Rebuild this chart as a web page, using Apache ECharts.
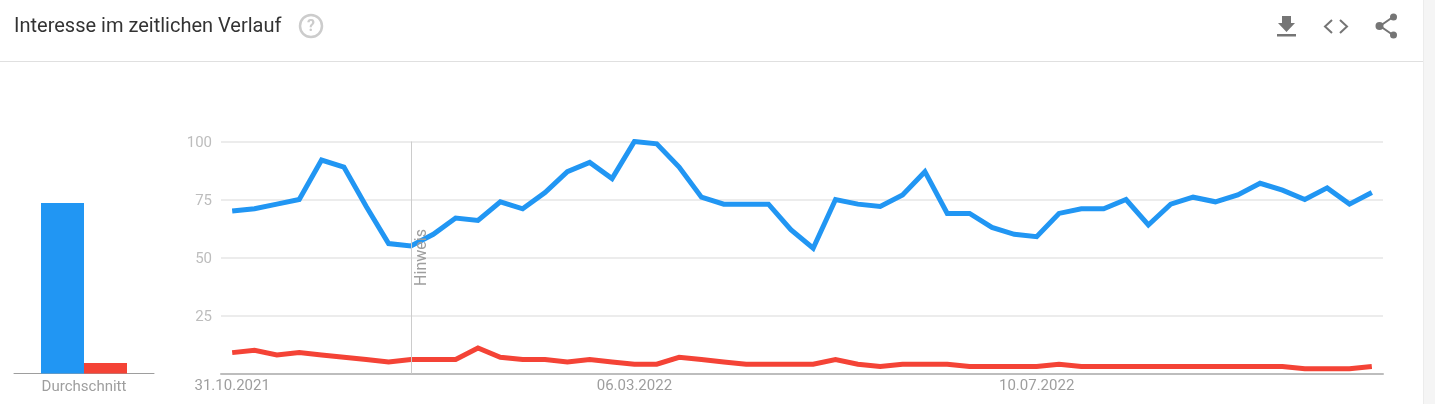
<!DOCTYPE html>
<html>
<head>
<meta charset="utf-8">
<style>html,body{margin:0;padding:0;background:#fff}#c{width:1435px;height:404px}</style>
<script src="https://cdn.jsdelivr.net/npm/echarts@6/dist/echarts.min.js"></script>
</head>
<body>
<div id="c"></div>
<script>
const weeks = ['31.10.2021','07.11.2021','14.11.2021','21.11.2021','28.11.2021','05.12.2021','12.12.2021','19.12.2021','26.12.2021','02.01.2022','09.01.2022','16.01.2022','23.01.2022','30.01.2022','06.02.2022','13.02.2022','20.02.2022','27.02.2022','06.03.2022','13.03.2022','20.03.2022','27.03.2022','03.04.2022','10.04.2022','17.04.2022','24.04.2022','01.05.2022','08.05.2022','15.05.2022','22.05.2022','29.05.2022','05.06.2022','12.06.2022','19.06.2022','26.06.2022','03.07.2022','10.07.2022','17.07.2022','24.07.2022','31.07.2022','07.08.2022','14.08.2022','21.08.2022','28.08.2022','04.09.2022','11.09.2022','18.09.2022','25.09.2022','02.10.2022','09.10.2022','16.10.2022','23.10.2022'];
const blueValues = [70,71,73,75,92,89,72,56,55,60,67,66,74,71,78,87,91,84,100,99,89,76,73,73,73,62,54,75,73,72,77,87,69,69,63,60,59,69,71,71,75,64,73,76,74,77,82,79,75,80,73,78];
const redValues = [9,10,8,9,8,7,6,5,6,6,6,11,7,6,6,5,6,5,4,4,7,6,5,4,4,4,4,6,4,3,4,4,4,3,3,3,3,4,3,3,3,3,3,3,3,3,3,3,2,2,2,3];
const averageCategories = ['Durchschnitt'];
const blueAverage = [73.5];
const redAverage = [4.5];
const yTicks = [25,50,75,100];
const title = 'Interesse im zeitlichen Verlauf';
const noteLabel = 'Hinweis';
const noteWeek = '26.12.2021';

const BLUE = '#2196f3', RED = '#f44336', ICON = '#757575';
const font = 'Roboto';
const chart = echarts.init(document.getElementById('c'), null, {renderer:'canvas'});
chart.setOption({
  animation:false,
  backgroundColor:'#fff',
  textStyle:{fontFamily:font},
  grid:[
    {left:14, width:140, top:141.5, height:232, containLabel:false},
    {left:221, width:1162, top:141.5, height:232, containLabel:false}
  ],
  xAxis:[
    {gridIndex:0, type:'category', data:averageCategories,
      axisTick:{show:false}, axisLine:{lineStyle:{color:'#9e9e9e',width:1}},
      axisLabel:{color:'#9e9e9e',fontSize:15,fontFamily:font,margin:6}},
    {gridIndex:1, type:'category', data:weeks,
      axisTick:{show:false}, axisLine:{lineStyle:{color:'#bdbdbd',width:2}},
      axisLabel:{color:'#9e9e9e',fontSize:15,fontFamily:font,interval:17,margin:5,hideOverlap:false}}
  ],
  yAxis:[
    {gridIndex:0, type:'value', min:0, max:100, show:false},
    {gridIndex:1, type:'value', min:0, max:100, interval:25,
      axisLine:{show:false}, axisTick:{show:false},
      axisLabel:{color:'#bdbdbd',fontSize:15,fontFamily:font,margin:9,verticalAlign:'top',lineHeight:4,
        formatter:v => yTicks.includes(v) ? String(v) : ''},
      splitLine:{lineStyle:{color:'#e6e6e6',width:1.5}}}
  ],
  series:[
    {type:'bar',name:'Blau',xAxisIndex:0,yAxisIndex:0,data:blueAverage,barWidth:43,barGap:0,itemStyle:{color:BLUE}},
    {type:'bar',name:'Rot',xAxisIndex:0,yAxisIndex:0,data:redAverage,barWidth:43,barGap:0,itemStyle:{color:RED}},
    {type:'line',name:'Blau',xAxisIndex:1,yAxisIndex:1,data:blueValues,showSymbol:false,symbol:'none',
      lineStyle:{color:BLUE,width:5,join:'miter'},z:3,clip:true,
      markLine:{silent:true,symbol:'none',z:4,
        lineStyle:{color:'#cccccc',width:1,type:'solid'},
        label:{show:true,formatter:noteLabel,position:'insideMiddleBottom',color:'#9e9e9e',fontSize:16,fontFamily:font,distance:3,rotate:90},
        data:[{xAxis:noteWeek}]}},
    {type:'line',name:'Rot',xAxisIndex:1,yAxisIndex:1,data:redValues,showSymbol:false,symbol:'none',
      lineStyle:{color:RED,width:5,join:'miter'},z:3,clip:true}
  ],
  graphic:[
    {type:'rect',z:-1,shape:{x:1423,y:0,width:12,height:404},style:{fill:'#f5f5f5'},silent:true},
    {type:'rect',z:-1,shape:{x:1423,y:0,width:1,height:404},style:{fill:'#ececec'},silent:true},
    {type:'rect',shape:{x:0,y:61,width:1423,height:1},style:{fill:'#e0e0e0'},silent:true},
    {type:'text',x:14,y:27,style:{text:title,font:'20px Roboto',fill:'#333333',textVerticalAlign:'middle',verticalAlign:'middle'},silent:true},
    {type:'circle',shape:{cx:311,cy:26,r:11},style:{fill:'none',stroke:'#cccccc',lineWidth:2.5},silent:true},
    {type:'text',x:311,y:27,style:{text:'?',font:'bold 16px Roboto',fill:'#cccccc',align:'center',verticalAlign:'middle'},silent:true},
    {type:'polygon',shape:{points:[[1282,16],[1291,16],[1291,23],[1295,23],[1286.5,32],[1278,23],[1282,23]]},style:{fill:ICON},silent:true},
    {type:'rect',shape:{x:1277,y:34,width:19,height:2.5},style:{fill:ICON},silent:true},
    {type:'polyline',shape:{points:[[1332,20],[1325,26.5],[1332,33]]},style:{fill:'none',stroke:ICON,lineWidth:2},silent:true},
    {type:'polyline',shape:{points:[[1340,20],[1347,26.5],[1340,33]]},style:{fill:'none',stroke:ICON,lineWidth:2},silent:true},
    {type:'polyline',shape:{points:[[1393,17],[1380,26],[1393,35]]},style:{fill:'none',stroke:ICON,lineWidth:2},silent:true},
    {type:'circle',shape:{cx:1393.5,cy:17,r:3.5},style:{fill:ICON},silent:true},
    {type:'circle',shape:{cx:1379.5,cy:26,r:4},style:{fill:ICON},silent:true},
    {type:'circle',shape:{cx:1393.5,cy:35,r:3.5},style:{fill:ICON},silent:true}
  ]
});
</script>
</body>
</html>
